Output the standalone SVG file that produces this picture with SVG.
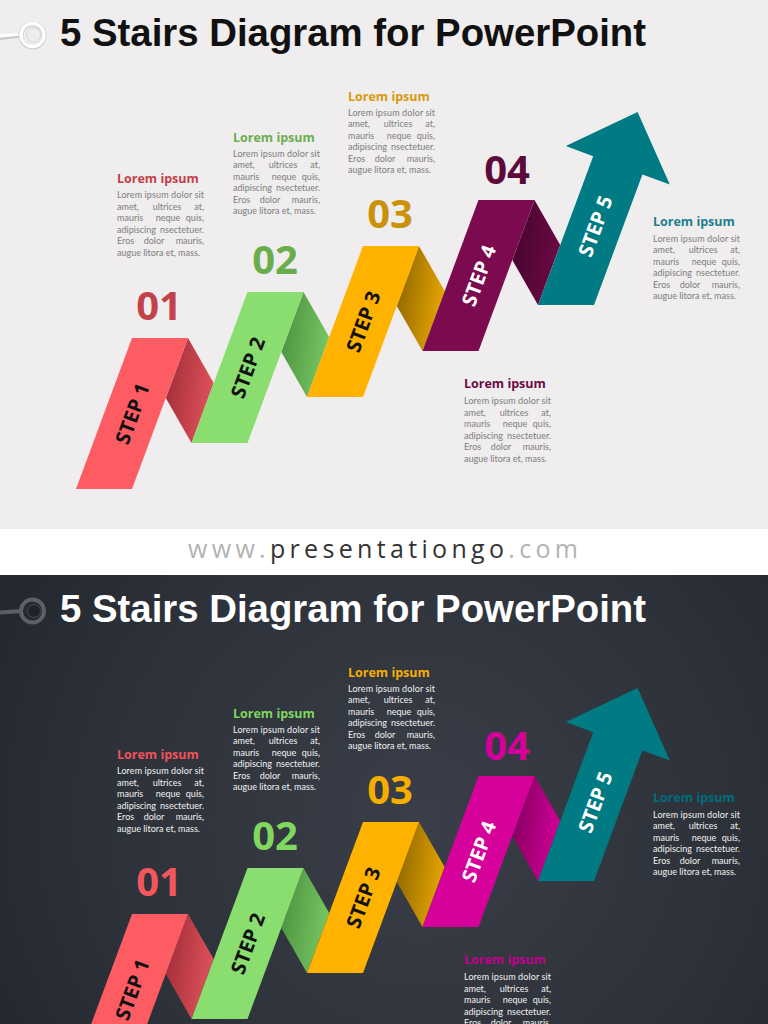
<svg xmlns="http://www.w3.org/2000/svg" xmlns:xlink="http://www.w3.org/1999/xlink" width="768" height="1024" viewBox="0 0 768 1024">
<defs>
<style>
.ttl{font-family:"Liberation Sans",Arial,sans-serif;font-weight:700;font-size:39px}
.num{font-family:"Open Sans","Liberation Sans",sans-serif;font-weight:700;font-size:40px;text-anchor:middle}
.step{font-family:"Open Sans","Liberation Sans",sans-serif;font-weight:700;font-size:20px;text-anchor:middle;dominant-baseline:central}
.hd{font-family:"Open Sans","Liberation Sans",sans-serif;font-weight:700;font-size:12.5px}
.bd{font-family:Lato,"Liberation Sans",sans-serif;font-weight:400;font-size:9px}
.web{font-family:"Open Sans","Liberation Sans",sans-serif;font-weight:400;font-size:25px}
.m{text-anchor:middle}
.e{text-anchor:end}
</style>
<radialGradient id="darkbg" gradientUnits="userSpaceOnUse" cx="420" cy="820" r="520">
<stop offset="0" stop-color="#393e48"/>
<stop offset="0.6" stop-color="#2d3139"/>
<stop offset="1" stop-color="#22252b"/>
</radialGradient>
<linearGradient id="gRed" x1="0" y1="0" x2="1" y2="0.3"><stop offset="0" stop-color="#9c2a36"/><stop offset="1" stop-color="#dc5059"/></linearGradient>
<linearGradient id="gGrn" x1="0" y1="0" x2="1" y2="0.3"><stop offset="0" stop-color="#4a8d3e"/><stop offset="1" stop-color="#74c45f"/></linearGradient>
<linearGradient id="gYel" x1="0" y1="0" x2="1" y2="0.3"><stop offset="0" stop-color="#876200"/><stop offset="1" stop-color="#e2a200"/></linearGradient>
<linearGradient id="gPur" x1="0" y1="0" x2="1" y2="0.3"><stop offset="0" stop-color="#42042c"/><stop offset="1" stop-color="#6a0943"/></linearGradient>
<linearGradient id="gMag" x1="0" y1="0" x2="1" y2="0.3"><stop offset="0" stop-color="#7c0059"/><stop offset="1" stop-color="#cc0094"/></linearGradient>
<path id="b1" d="M76,489 L132,489 L188,338 L132,338 Z"/>
<path id="b2" d="M191.5,443 L247.5,443 L303.5,292 L247.5,292 Z"/>
<path id="b3" d="M307,397 L363,397 L419,246 L363,246 Z"/>
<path id="b4" d="M422.5,351 L478.5,351 L534.5,200 L478.5,200 Z"/>
<path id="b5" d="M538,305 L594,305 L642.4,174.4 L669.8,184.6 L637.6,111.9 L565.8,146 L593.2,156.2 Z"/>
<path id="f1" d="M188,338 L213.7,383 L191.5,443 L165.8,398 Z"/>
<path id="f2" d="M303.5,292 L329.2,337 L307,397 L281.3,352 Z"/>
<path id="f3" d="M419,246 L444.7,291 L422.5,351 L396.8,306 Z"/>
<path id="f4" d="M534.5,200 L560.2,245 L538,305 L512.3,260 Z"/>
<g id="body" class="bd">
<text x="0" y="0" textLength="87" lengthAdjust="spacing">Lorem ipsum dolor sit</text>
<text x="0" y="11.5">amet,</text><text x="50" y="11.5" class="m">ultrices</text><text x="87" y="11.5" class="e">at,</text>
<text x="0" y="23">mauris</text><text x="51" y="23" class="m">neque</text><text x="87" y="23" class="e">quis,</text>
<text x="0" y="34.5">adipiscing</text><text x="87" y="34.5" class="e">nsectetuer.</text>
<text x="0" y="46">Eros</text><text x="37" y="46" class="m">dolor</text><text x="87" y="46" class="e">mauris,</text>
<text x="0" y="57.5">augue litora et, mass.</text>
</g>
</defs>

<!-- Light panel -->
<g id="light-panel">
<rect x="0" y="0" width="768" height="529" fill="#efeded"/>
<g id="light-header">
<path d="M0,37.5 L22,35" stroke="#c9c9c9" stroke-width="5" fill="none"/>
<path d="M0,36 L22,34" stroke="#ffffff" stroke-width="3" fill="none"/>
<circle cx="32.5" cy="35.5" r="11.5" fill="none" stroke="#cfcfcf" stroke-width="5"/>
<circle cx="32.5" cy="35" r="11.5" fill="none" stroke="#ffffff" stroke-width="3.5"/>
<circle cx="33.5" cy="35" r="7" fill="none" stroke="#d6d6d6" stroke-width="1"/>
<text class="ttl" x="60" y="46" fill="#111111" textLength="586" lengthAdjust="spacingAndGlyphs">5 Stairs Diagram for PowerPoint</text>
</g>
<g id="light-step1">
<use xlink:href="#f1" fill="url(#gRed)"/>
<use xlink:href="#b1" fill="#fd5c63"/>
<text class="step" fill="#111111" transform="translate(132,413.5) rotate(-69.65)">STEP 1</text>
<text class="num" x="159" y="320" fill="#c2424a">01</text>
<text class="hd" x="117" y="182.5" fill="#c53f47">Lorem ipsum</text>
<use xlink:href="#body" x="117" y="198" fill="#7d7d7d"/>
</g>
<g id="light-step2">
<use xlink:href="#f2" fill="url(#gGrn)"/>
<use xlink:href="#b2" fill="#8add6f"/>
<text class="step" fill="#111111" transform="translate(247.5,367.5) rotate(-69.65)">STEP 2</text>
<text class="num" x="275" y="274" fill="#6aae4c">02</text>
<text class="hd" x="233" y="141.5" fill="#6aae50">Lorem ipsum</text>
<use xlink:href="#body" x="233" y="156.5" fill="#7d7d7d"/>
</g>
<g id="light-step3">
<use xlink:href="#f3" fill="url(#gYel)"/>
<use xlink:href="#b3" fill="#ffb300"/>
<text class="step" fill="#111111" transform="translate(363,321.5) rotate(-69.65)">STEP 3</text>
<text class="num" x="390" y="228" fill="#c99208">03</text>
<text class="hd" x="348" y="100.5" fill="#d89a0c">Lorem ipsum</text>
<use xlink:href="#body" x="348" y="115.5" fill="#7d7d7d"/>
</g>
<g id="light-step4">
<use xlink:href="#f4" fill="url(#gPur)"/>
<use xlink:href="#b4" fill="#7b0a4f"/>
<text class="step" fill="#ffffff" transform="translate(478.5,275.5) rotate(-69.65)">STEP 4</text>
<text class="num" x="507" y="184" fill="#5c0a3c">04</text>
<text class="hd" x="464" y="387.5" fill="#6b0b45">Lorem ipsum</text>
<use xlink:href="#body" x="464" y="404" fill="#7d7d7d"/>
</g>
<g id="light-step5">
<use xlink:href="#b5" fill="#007b84"/>
<text class="step" fill="#ffffff" transform="translate(595,226) rotate(-69.65)">STEP 5</text>
<text class="hd" x="653" y="225.5" fill="#1b7f8c">Lorem ipsum</text>
<use xlink:href="#body" x="653" y="241.5" fill="#7d7d7d"/>
</g>
</g>

<!-- Website strip -->
<g id="website">
<rect x="0" y="529" width="768" height="47" fill="#ffffff"/>
<text class="web" x="188" y="558" textLength="390" lengthAdjust="spacing"><tspan fill="#b3b3b3">www.</tspan><tspan fill="#333333">presentationgo</tspan><tspan fill="#b3b3b3">.com</tspan></text>
</g>

<!-- Dark panel -->
<g id="dark-panel">
<rect x="0" y="575" width="768" height="449" fill="url(#darkbg)"/>
<g transform="translate(0,576)">
<g id="dark-header">
<path d="M0,36.5 L22,35" stroke="#5b5e64" stroke-width="4" fill="none"/>
<circle cx="32.5" cy="35" r="11.5" fill="#25282e" stroke="#5d6066" stroke-width="4"/>
<circle cx="34" cy="35" r="6.5" fill="#1f2227" stroke="#4a4d53" stroke-width="1"/>
<text class="ttl" x="60" y="46" fill="#ffffff" textLength="586" lengthAdjust="spacingAndGlyphs">5 Stairs Diagram for PowerPoint</text>
</g>
<g id="dark-step1">
<use xlink:href="#f1" fill="url(#gRed)"/>
<use xlink:href="#b1" fill="#fd5c63"/>
<text class="step" fill="#111111" transform="translate(132,413.5) rotate(-69.65)">STEP 1</text>
<text class="num" x="159" y="320" fill="#f2575e">01</text>
<text class="hd" x="117" y="182.5" fill="#f0525a">Lorem ipsum</text>
<use xlink:href="#body" x="117" y="198" fill="#f2f2f2"/>
</g>
<g id="dark-step2">
<use xlink:href="#f2" fill="url(#gGrn)"/>
<use xlink:href="#b2" fill="#8add6f"/>
<text class="step" fill="#111111" transform="translate(247.5,367.5) rotate(-69.65)">STEP 2</text>
<text class="num" x="275" y="274" fill="#80d85e">02</text>
<text class="hd" x="233" y="141.5" fill="#7fd65d">Lorem ipsum</text>
<use xlink:href="#body" x="233" y="156.5" fill="#f2f2f2"/>
</g>
<g id="dark-step3">
<use xlink:href="#f3" fill="url(#gYel)"/>
<use xlink:href="#b3" fill="#ffb300"/>
<text class="step" fill="#111111" transform="translate(363,321.5) rotate(-69.65)">STEP 3</text>
<text class="num" x="390" y="228" fill="#f5ae00">03</text>
<text class="hd" x="348" y="100.5" fill="#f5ae00">Lorem ipsum</text>
<use xlink:href="#body" x="348" y="115.5" fill="#f2f2f2"/>
</g>
<g id="dark-step4">
<use xlink:href="#f4" fill="url(#gMag)"/>
<use xlink:href="#b4" fill="#d6009b"/>
<text class="step" fill="#ffffff" transform="translate(478.5,275.5) rotate(-69.65)">STEP 4</text>
<text class="num" x="507" y="184" fill="#d4009a">04</text>
<text class="hd" x="464" y="387.5" fill="#c2008c">Lorem ipsum</text>
<use xlink:href="#body" x="464" y="404" fill="#f2f2f2"/>
</g>
<g id="dark-step5">
<use xlink:href="#b5" fill="#007b84"/>
<text class="step" fill="#ffffff" transform="translate(595,226) rotate(-69.65)">STEP 5</text>
<text class="hd" x="653" y="225.5" fill="#006d7c">Lorem ipsum</text>
<use xlink:href="#body" x="653" y="241.5" fill="#f2f2f2"/>
</g>
</g>
</g>
</svg>
